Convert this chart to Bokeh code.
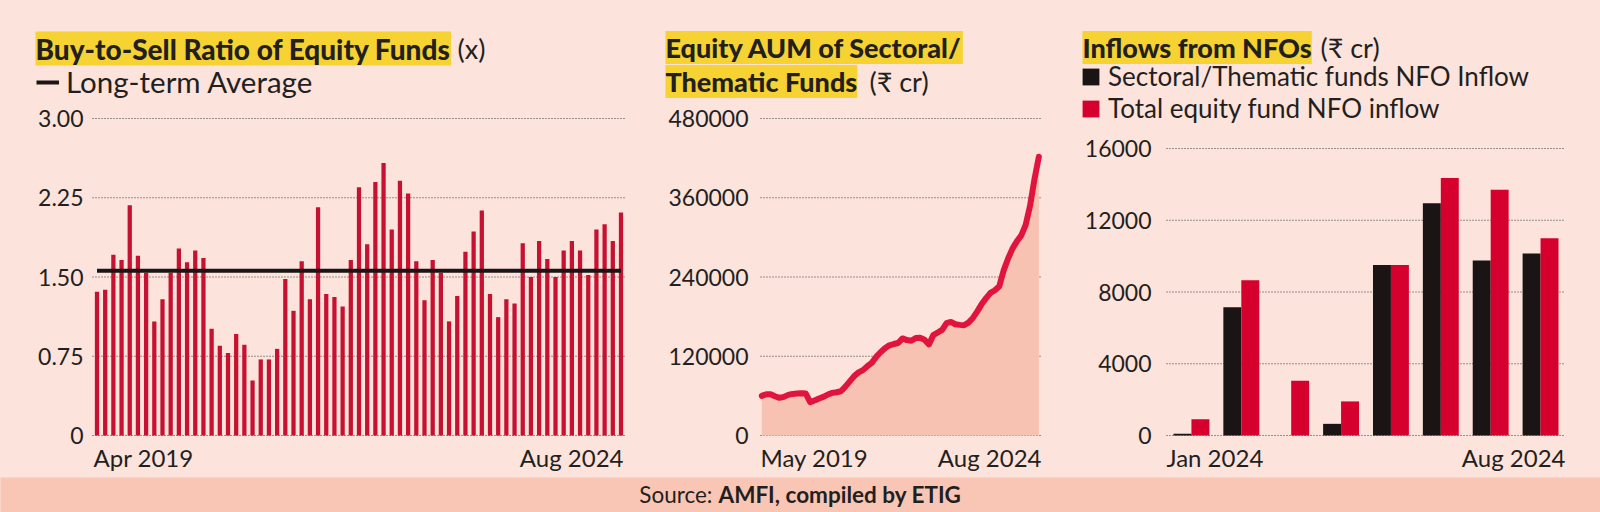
import pandas as pd
from bokeh.plotting import figure
from bokeh.models import Label, Legend, LegendItem, Range1d, ColumnDataSource
from bokeh.layouts import column, row
from bokeh.core.properties import value
from bokeh.transform import dodge
from bokeh.embed import file_html
from bokeh.resources import INLINE

# ---------------- data ----------------
ratio_months = [d.strftime("%b %Y") for d in pd.date_range("2019-04-01", "2024-08-01", freq="MS")]
ratio_values = [1.36, 1.38, 1.71, 1.66, 2.18, 1.70, 1.54, 1.08, 1.29, 1.54,
                1.77, 1.64, 1.75, 1.68, 1.01, 0.85, 0.78, 0.96, 0.86, 0.52,
                0.72, 0.72, 0.82, 1.48, 1.18, 1.65, 1.29, 2.16, 1.34, 1.31,
                1.22, 1.66, 2.35, 1.81, 2.40, 2.58, 1.95, 2.41, 2.29, 1.65,
                1.28, 1.66, 1.54, 1.08, 1.32, 1.74, 1.93, 2.13, 1.34, 1.12,
                1.29, 1.25, 1.82, 1.50, 1.84, 1.67, 1.50, 1.75, 1.84, 1.75,
                1.52, 1.95, 2.00, 1.84, 2.11]
long_term_average = 1.56
ratio_ticks = [0, 0.75, 1.5, 2.25, 3.0]
ratio_tick_labels = ["0", "0.75", "1.50", "2.25", "3.00"]

aum_months = [d.strftime("%b %Y") for d in pd.date_range("2019-05-01", "2024-08-01", freq="MS")]
aum_values = [60000, 62500, 62500, 59500, 57000, 58500, 61500, 63000, 63500, 64000,
              63500, 50500, 53000, 56000, 58500, 62000, 64500, 65500, 67000, 74000,
              82000, 90000, 95500, 99000, 105000, 110000, 119000, 126000, 132000, 136500,
              138500, 140000, 147000, 144500, 143500, 147500, 148000, 145000, 138000, 152000,
              156000, 160000, 170000, 172000, 168500, 167500, 167000, 171000, 178000, 188000,
              199000, 208000, 216000, 220000, 226000, 250000, 268000, 283000, 294000, 303000,
              319000, 348000, 388000, 422000]
aum_ticks = [0, 120000, 240000, 360000, 480000]
aum_tick_labels = ["0", "120000", "240000", "360000", "480000"]

nfo_months = ["Jan 2024", "Feb 2024", "Mar 2024", "Apr 2024", "May 2024", "Jun 2024", "Jul 2024", "Aug 2024"]
nfo_sectoral = [100, 7150, 0, 650, 9500, 12950, 9750, 10150]
nfo_total = [900, 8650, 3050, 1900, 9500, 14350, 13700, 11000]
nfo_ticks = [0, 4000, 8000, 12000, 16000]
nfo_tick_labels = ["0", "4000", "8000", "12000", "16000"]

# ---------------- style ----------------
BG = "#FCE3DB"
FOOT_BG = "#F9C6B6"
TXT = "#231F20"
HILITE = "#F6D232"
FONT = "Lato"
TITLE_FONT = "Lato Black, Lato"
PANEL_H = 477
DATA_BOTTOM = 435
TICK_SIZE = "24px"
TITLE_SIZE = "27px"


def panel(width, offset, left, right, top, xlim, ylim):
    """Figure whose frame is the whole canvas; the data area (xlim, ylim)
    is mapped onto page pixels left..right / top..DATA_BOTTOM."""
    ux = (xlim[1] - xlim[0]) / (right - left)
    uy = (ylim[1] - ylim[0]) / (DATA_BOTTOM - top)
    x0 = xlim[0] - (left - offset) * ux
    x1 = xlim[1] + (offset + width - right) * ux
    y0 = ylim[0] - (PANEL_H - DATA_BOTTOM) * uy
    y1 = ylim[1] + top * uy
    p = figure(width=width, height=PANEL_H, x_range=Range1d(x0, x1), y_range=Range1d(y0, y1),
               output_backend="svg", toolbar_location=None, min_border=0)
    p.background_fill_color = BG
    p.border_fill_color = BG
    p.outline_line_color = None
    p.axis.visible = False
    p.grid.visible = False
    p.tags = [offset, ux, uy, x0, y0]
    return p


def px2data(p, px, py):
    offset, ux, uy, x0, y0 = p.tags
    return x0 + (px - offset) * ux, y0 + (PANEL_H - py) * uy


def y_axis(p, xlim, ticks, labels, standoff):
    p.segment(x0=[xlim[0]] * len(ticks), x1=[xlim[1]] * len(ticks), y0=ticks, y1=ticks,
              line_color="#3a3a3a", line_width=1, line_dash="1 2")
    p.text(x=[xlim[0]] * len(ticks), y=ticks, text=labels, x_offset=-standoff,
           text_align="right", text_baseline="middle", text_font=value(FONT),
           text_font_size="23px", text_color=TXT)


def text_at(p, px, py, text, size, bold=False, align="left", bg=None):
    x, y = px2data(p, px, py)
    lab = Label(x=x, y=y, text=text, text_font=TITLE_FONT if bold else FONT, text_font_size=size,
                text_font_style="bold" if bold else "normal", text_color=TXT,
                text_align=align, text_baseline="middle")
    if bg is not None:
        lab.background_fill_color = bg
    p.add_layout(lab)
    return lab


def legend(p, px, py_bottom, items, gw, gh, spacing, size):
    offset = p.tags[0]
    lg = Legend(items=items, location=(px - offset, PANEL_H - py_bottom), orientation="vertical",
                glyph_width=gw, glyph_height=gh, label_standoff=7,
                label_text_font=FONT, label_text_font_size=size, label_text_color=TXT,
                border_line_color=None, background_fill_alpha=0, padding=0, margin=0,
                spacing=spacing)
    p.add_layout(lg)
    return lg


# ---------------- panel 1: buy-to-sell ratio ----------------
idx1 = list(range(len(ratio_months)))
xlim1 = (-0.55, len(idx1) - 1 + 0.55)
p1 = panel(640, 0, 92, 625, 118, xlim1, (0, 3.0))
y_axis(p1, xlim1, ratio_ticks, ratio_tick_labels, 9)
src1 = ColumnDataSource(dict(x=idx1, month=ratio_months, ratio=ratio_values))
p1.vbar(x="x", top="ratio", width=0.52, source=src1, fill_color="#C61230", line_color=None)
avg_r = p1.line(x=[idx1[0], idx1[-1]], y=[long_term_average, long_term_average],
                line_color="#1A1414", line_width=4)
legend(p1, 36, 99, [LegendItem(label="Long-term Average", renderers=[avg_r])], 23, 10, 0, "29.5px")
text_at(p1, 35, 48, "Buy-to-Sell Ratio of Equity Funds", "28px", bold=True, bg=HILITE)
text_at(p1, 457, 48, "(x)", TITLE_SIZE)
text_at(p1, 93, 457, ratio_months[0], TICK_SIZE)
text_at(p1, 623, 457, ratio_months[-1], TICK_SIZE, align="right")

# ---------------- panel 2: AUM ----------------
idx2 = list(range(len(aum_months)))
xlim2 = (-0.3, len(idx2) - 1 + 0.6)
p2 = panel(420, 640, 760, 1041, 118, xlim2, (0, 480000))
y_axis(p2, xlim2, aum_ticks, aum_tick_labels, 12)
src2 = ColumnDataSource(dict(x=idx2, month=aum_months, aum=aum_values))
p2.varea(x="x", y1=0, y2="aum", source=src2, fill_color="#F8C2B2")
p2.line(x="x", y="aum", source=src2, line_color="#E0143C", line_width=6,
        line_join="round", line_cap="round")
text_at(p2, 665, 47, "Equity AUM of Sectoral/", TITLE_SIZE, bold=True, bg=HILITE)
text_at(p2, 665, 81, "Thematic Funds", TITLE_SIZE, bold=True, bg=HILITE)
text_at(p2, 869, 81, "(₹ cr)", TITLE_SIZE)
text_at(p2, 760, 457, aum_months[0], TICK_SIZE)
text_at(p2, 1041, 457, aum_months[-1], TICK_SIZE, align="right")

# ---------------- panel 3: NFO inflows ----------------
idx3 = list(range(len(nfo_months)))
xlim3 = (-0.5, len(idx3) - 0.5)
p3 = panel(540, 1060, 1166, 1565, 148, xlim3, (0, 16000))
y_axis(p3, xlim3, nfo_ticks, nfo_tick_labels, 15)
src3 = ColumnDataSource(dict(x=idx3, month=nfo_months, sectoral=nfo_sectoral, total=nfo_total))
r_sec = p3.vbar(x=dodge("x", -0.18), top="sectoral", width=0.36, source=src3,
                fill_color="#1B1414", line_color=None)
r_tot = p3.vbar(x=dodge("x", 0.18), top="total", width=0.36, source=src3,
                fill_color="#D6002E", line_color=None)
legend(p3, 1080, 124,
       [LegendItem(label="Sectoral/Thematic funds NFO Inflow", renderers=[r_sec]),
        LegendItem(label="Total equity fund NFO inflow", renderers=[r_tot])], 21, 21, -1, "26px")
text_at(p3, 1082, 47, "Inflows from NFOs", TITLE_SIZE, bold=True, bg=HILITE)
text_at(p3, 1320, 47, "(₹ cr)", TITLE_SIZE)
text_at(p3, 1166, 457, nfo_months[0], TICK_SIZE)
text_at(p3, 1565, 457, nfo_months[-1], TICK_SIZE, align="right")

# ---------------- footer ----------------
FOOT_H = 512 - PANEL_H
pf = figure(width=1600, height=FOOT_H, x_range=Range1d(0, 1600), y_range=Range1d(0, FOOT_H),
            output_backend="svg", toolbar_location=None, min_border=0)
pf.background_fill_color = FOOT_BG
pf.border_fill_color = FOOT_BG
pf.outline_line_color = None
pf.axis.visible = False
pf.grid.visible = False
pf.add_layout(Label(x=712, y=FOOT_H - 17, text="Source:", text_font=FONT, text_font_size="22.5px",
                    text_color=TXT, text_align="right", text_baseline="middle"))
pf.add_layout(Label(x=718, y=FOOT_H - 17, text="AMFI, compiled by ETIG", text_font=FONT,
                    text_font_size="22.5px", text_font_style="bold", text_color=TXT,
                    text_align="left", text_baseline="middle"))

top_row = row(p1, p2, p3, spacing=0, styles={"background-color": BG})
layout = column(top_row, pf, spacing=0, styles={"background-color": BG})
open("out.html", "w").write(file_html(layout, INLINE))
